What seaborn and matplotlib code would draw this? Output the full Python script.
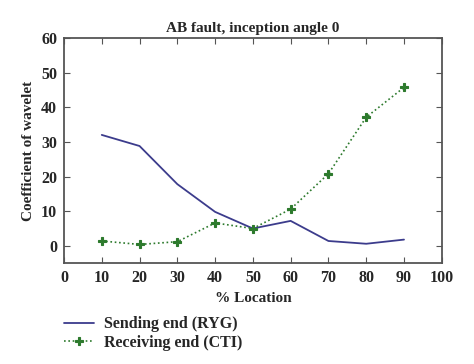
import pandas as pd
import matplotlib
matplotlib.use("Agg")
import matplotlib.pyplot as plt
import seaborn as sns

# data
location = [10, 20, 30, 40, 50, 60, 70, 80, 90]
sending = [32.0, 28.8, 17.8, 9.8, 5.0, 7.2, 1.4, 0.6, 1.8]
receiving = [1.4, 0.4, 1.2, 6.6, 5.0, 10.6, 20.8, 37.1, 45.7]
x_ticks = [0, 10, 20, 30, 40, 50, 60, 70, 80, 90, 100]
y_ticks = [0, 10, 20, 30, 40, 50, 60]

sns.set_style("ticks")
plt.rcParams['font.family'] = ['Liberation Serif', 'DejaVu Serif']
plt.rcParams['font.weight'] = 'bold'

fig = plt.figure(figsize=(4.74, 3.64), dpi=100)
ax = fig.add_axes([0.135, 0.277, 0.797, 0.619])

sns.lineplot(x=location, y=sending, ax=ax, color="#3c3c8c", linewidth=1.3,
             label="Sending end (RYG)")
sns.lineplot(x=location, y=receiving, ax=ax, color="#2d7a2d", linewidth=1.2,
             linestyle=(0, (1, 1.6)), marker="P", markersize=5.5,
             markeredgewidth=0.8, markeredgecolor="#2d7a2d",
             label="Receiving end (CTI)")

ax.set_xlim(0, 100)
ax.set_ylim(-5, 60)
ax.set_xticks(x_ticks)
ax.set_yticks(y_ticks)
ax.tick_params(direction="in", top=True, right=True, length=4, color="#555555",
               labelsize=11.5, pad=5)
for lab in ax.get_xticklabels() + ax.get_yticklabels():
    lab.set_fontweight("bold")
for s in ax.spines.values():
    s.set_color("#555555")
    s.set_linewidth(1.3)

ax.set_title("AB fault, inception angle 0", fontsize=11, fontweight="bold", pad=4)
ax.set_xlabel("% Location", fontsize=11, fontweight="bold", labelpad=4)
ax.set_ylabel("Coefficient of wavelet", fontsize=11, fontweight="bold", labelpad=4)

ax.legend(loc="upper left", bbox_to_anchor=(0.0, -0.235), frameon=False,
          handlelength=1.9, handletextpad=0.6, labelspacing=0.15,
          borderaxespad=0, borderpad=0, prop={'weight': 'bold', 'size': 11.5})

fig.savefig("out.png", dpi=100)
